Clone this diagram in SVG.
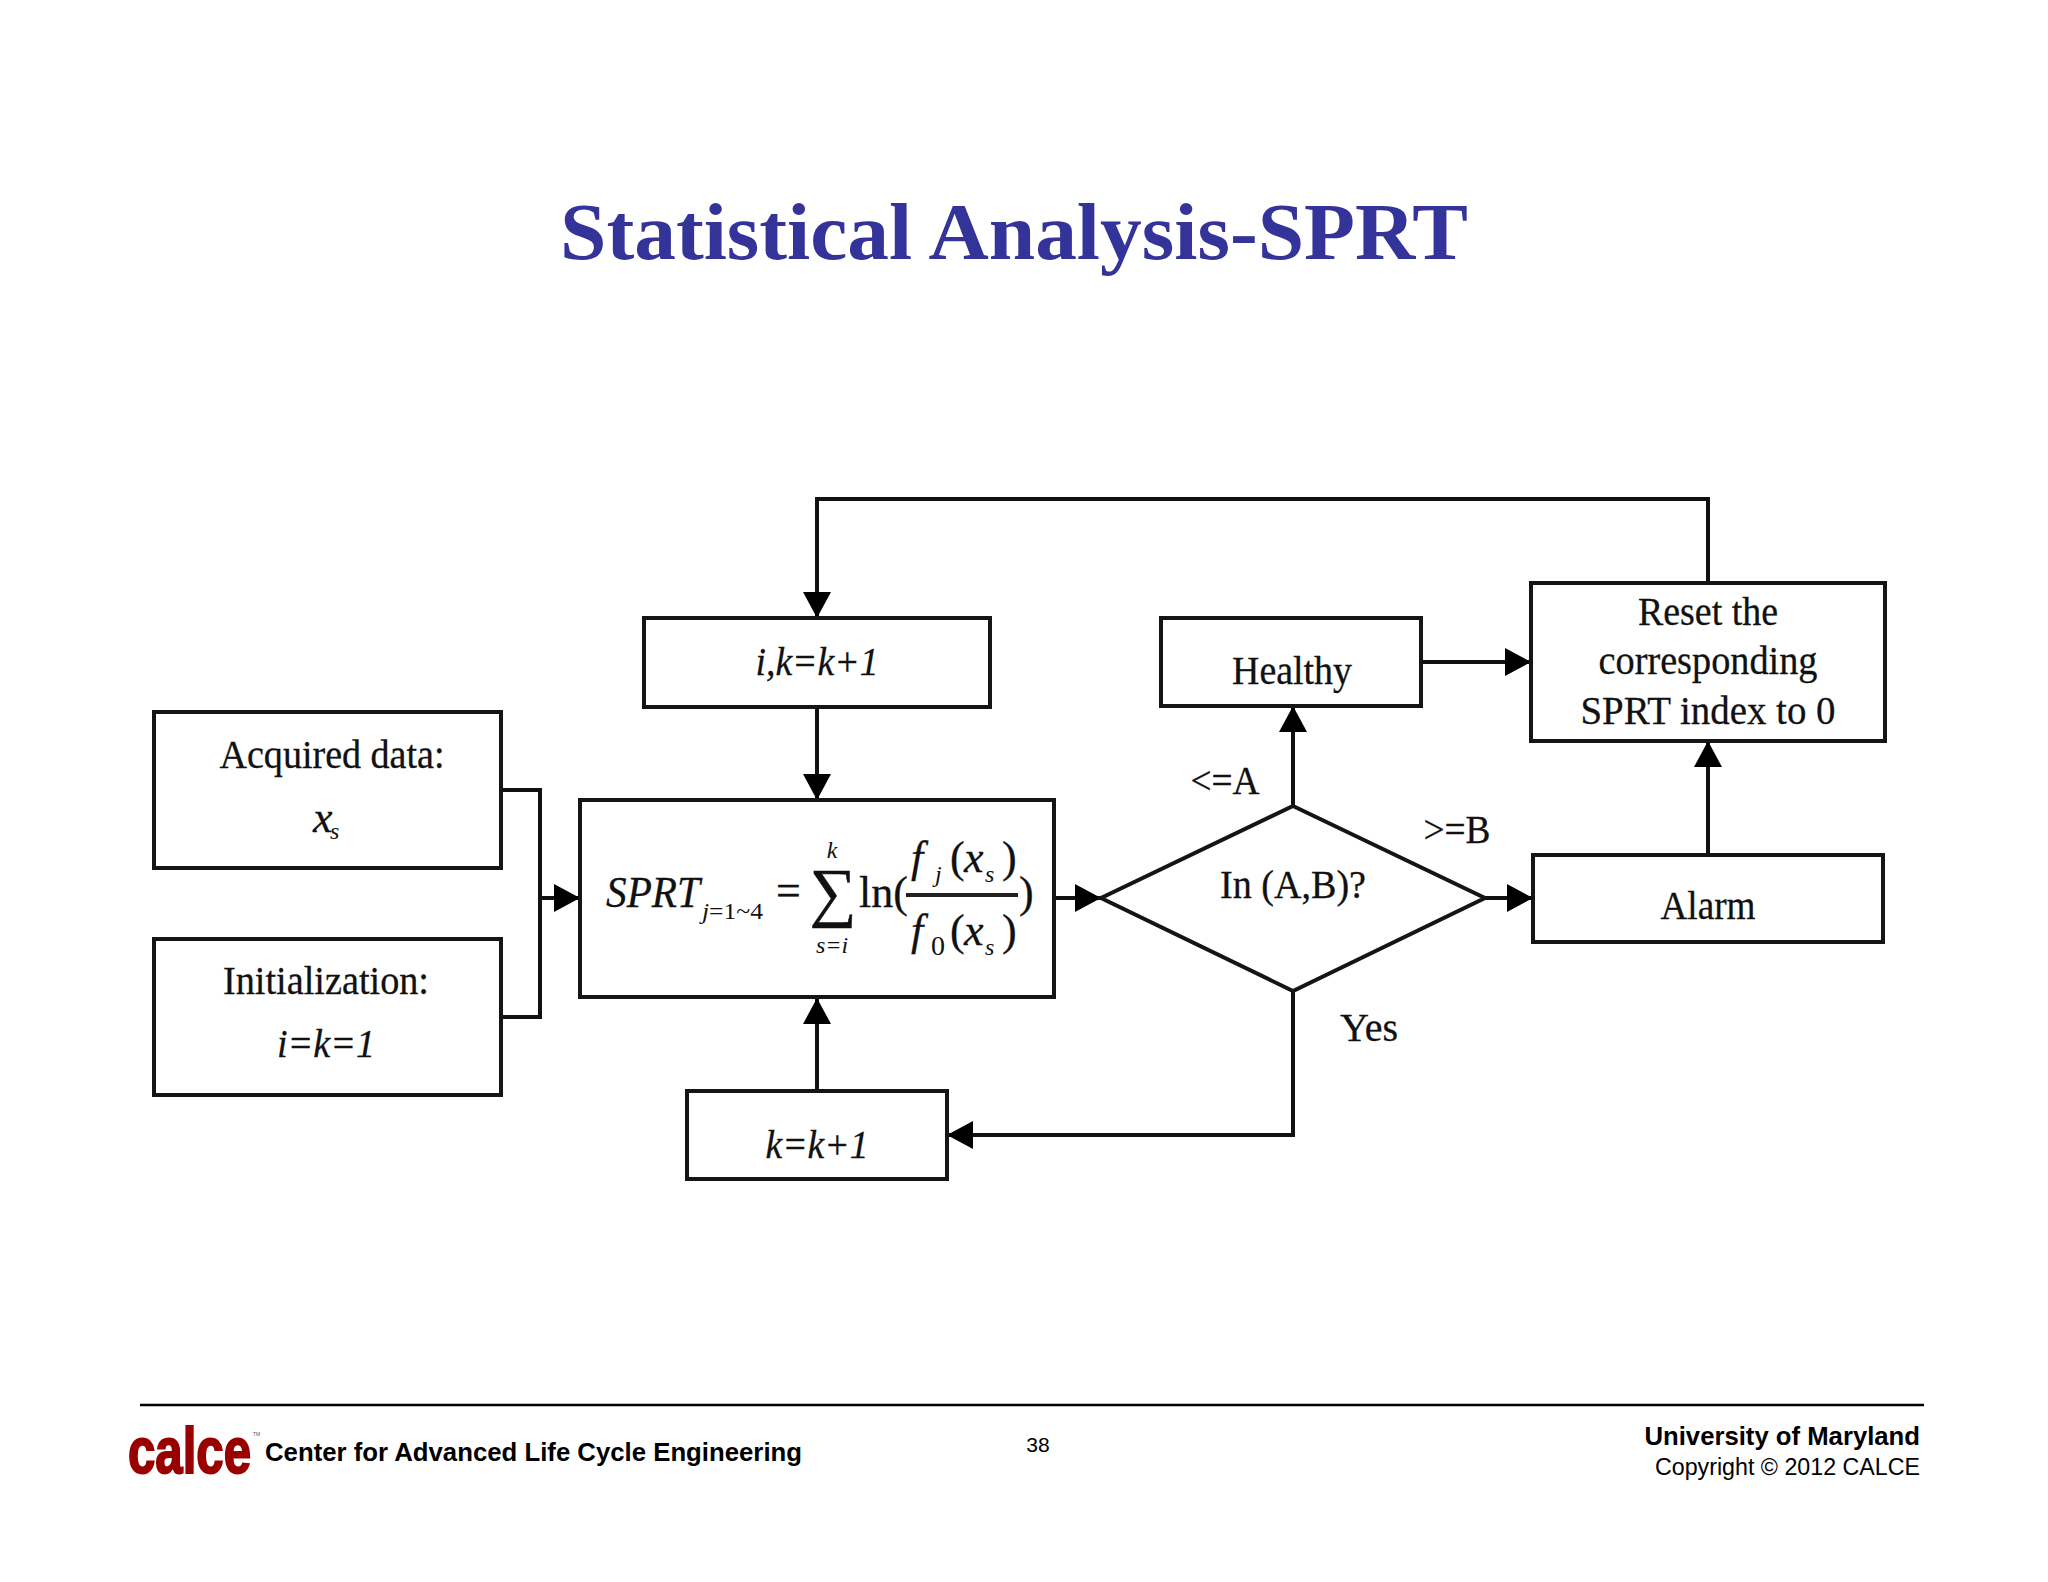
<svg xmlns="http://www.w3.org/2000/svg" width="2048" height="1582" viewBox="0 0 2048 1582">
<style>
.t{font-family:"Liberation Serif",serif;font-size:40px;fill:#111;stroke:#111;stroke-width:.3;text-anchor:middle}
.i{font-style:italic}
.m{font-family:"Liberation Serif",serif;font-size:44px;fill:#111;stroke:#111;stroke-width:.3}
.s{font-family:"Liberation Serif",serif;font-size:24px;fill:#111;font-style:italic}
.b{fill:#fff;stroke:#151515;stroke-width:4}
.c{fill:none;stroke:#111;stroke-width:4;stroke-linejoin:miter}
.f{font-family:"Liberation Sans",sans-serif;fill:#000}
</style>
<defs>
<marker id="a" markerUnits="userSpaceOnUse" markerWidth="27" markerHeight="28" refX="26" refY="14" orient="auto"><path d="M0 0L26 14L0 28Z" fill="#000"/></marker>
</defs>
<rect width="2048" height="1582" fill="#fff"/>
<text id="title" x="1014" y="259" text-anchor="middle" font-family="Liberation Serif,serif" font-weight="bold" font-size="80" fill="#333399" textLength="908" lengthAdjust="spacingAndGlyphs">Statistical Analysis-SPRT</text>
<g id="connectors">
<path class="c" d="M1708 583V499H817V618" marker-end="url(#a)"/>
<path class="c" d="M817 707V800" marker-end="url(#a)"/>
<path class="c" d="M817 1091V998" marker-end="url(#a)"/>
<path class="c" d="M1293 991V1135H947" marker-end="url(#a)"/>
<path class="c" d="M501 790H540V1017H501"/>
<path class="c" d="M540 898H580" marker-end="url(#a)"/>
<path class="c" d="M1054 898H1101" marker-end="url(#a)"/>
<path class="c" d="M1485 898H1533" marker-end="url(#a)"/>
<path class="c" d="M1708 855V741" marker-end="url(#a)"/>
<path class="c" d="M1293 806V706" marker-end="url(#a)"/>
<path class="c" d="M1421 662H1531" marker-end="url(#a)"/>
</g>
<g id="acquired"><rect class="b" x="154" y="712" width="347" height="156"/>
<text class="t" x="332" y="768" textLength="225" lengthAdjust="spacingAndGlyphs">Acquired data:</text>
<text class="m i" x="313" y="832" font-size="38">x</text><text class="s" x="330" y="839" font-size="22">s</text></g>
<g id="init"><rect class="b" x="154" y="939" width="347" height="156"/>
<text class="t" x="326" y="994" textLength="206" lengthAdjust="spacingAndGlyphs">Initialization:</text>
<text class="t i" x="326" y="1057" textLength="98" lengthAdjust="spacingAndGlyphs">i=k=1</text></g>
<g id="ik"><rect class="b" x="644" y="618" width="346" height="89"/>
<text class="t i" x="817" y="675" textLength="123" lengthAdjust="spacingAndGlyphs">i,k=k+1</text></g>
<g id="kk"><rect class="b" x="687" y="1091" width="260" height="88"/>
<text class="t i" x="817" y="1158" textLength="103" lengthAdjust="spacingAndGlyphs">k=k+1</text></g>
<g id="sprt"><rect class="b" x="580" y="800" width="474" height="197"/>
<text class="m i" x="606" y="907" textLength="94" lengthAdjust="spacingAndGlyphs">SPRT</text>
<text class="s" x="702" y="919" textLength="61" lengthAdjust="spacingAndGlyphs">j<tspan font-style="normal">=1~4</tspan></text>
<text class="m" x="776" y="905">=</text>
<text x="833" y="914" text-anchor="middle" font-family="Liberation Serif,serif" font-size="66" fill="#111" stroke="#111" stroke-width=".5">∑</text>
<text class="s" x="832" y="858" text-anchor="middle">k</text>
<text class="s" x="832" y="953" text-anchor="middle">s=i</text>
<text class="m" x="859" y="907">ln(</text>
<path d="M906 895H1018" stroke="#222" stroke-width="4"/>
<text class="m i" x="911" y="872">f</text><text class="s" x="935" y="882">j</text>
<text class="m" x="950" y="872">(</text><text class="m i" x="964" y="872">x</text><text class="s" x="985" y="882">s</text><text class="m" x="1002" y="872">)</text>
<text class="m i" x="911" y="945">f</text><text x="931" y="955" font-family="Liberation Serif,serif" font-size="28" fill="#111">0</text>
<text class="m" x="950" y="945">(</text><text class="m i" x="964" y="945">x</text><text class="s" x="985" y="955">s</text><text class="m" x="1002" y="945">)</text>
<text class="m" x="1019" y="907">)</text></g>
<g id="diamond"><path class="b" d="M1293 806L1485 898L1293 991L1101 898Z"/>
<text class="t" x="1293" y="898" textLength="146" lengthAdjust="spacingAndGlyphs">In (A,B)?</text></g>
<g id="healthy"><rect class="b" x="1161" y="618" width="260" height="88"/>
<text class="t" x="1292" y="684" textLength="120" lengthAdjust="spacingAndGlyphs">Healthy</text></g>
<g id="reset"><rect class="b" x="1531" y="583" width="354" height="158"/>
<text class="t" x="1708" y="625" textLength="140" lengthAdjust="spacingAndGlyphs">Reset the</text>
<text class="t" x="1708" y="674" textLength="219" lengthAdjust="spacingAndGlyphs">corresponding</text>
<text class="t" x="1708" y="724" textLength="255" lengthAdjust="spacingAndGlyphs">SPRT index to 0</text></g>
<g id="alarm"><rect class="b" x="1533" y="855" width="350" height="87"/>
<text class="t" x="1708" y="919" textLength="95" lengthAdjust="spacingAndGlyphs">Alarm</text></g>
<text class="t" x="1225" y="794" textLength="69" lengthAdjust="spacingAndGlyphs">&lt;=A</text>
<text class="t" x="1457" y="843" textLength="67" lengthAdjust="spacingAndGlyphs">&gt;=B</text>
<text class="t" x="1369" y="1041">Yes</text>
<g id="footer">
<path d="M140 1405H1924" stroke="#000" stroke-width="2.5"/>
<text x="128" y="1473" font-family="Liberation Sans,sans-serif" font-weight="bold" font-size="64" fill="#990000" stroke="#990000" stroke-width="2" textLength="123" lengthAdjust="spacingAndGlyphs">calce</text>
<text x="253" y="1436" font-family="Liberation Sans,sans-serif" font-size="5" fill="#555">TM</text>
<text class="f" x="265" y="1461" font-weight="bold" font-size="26" textLength="537" lengthAdjust="spacingAndGlyphs">Center for Advanced Life Cycle Engineering</text>
<text class="f" x="1038" y="1452" font-size="21" text-anchor="middle">38</text>
<text class="f" x="1920" y="1445" font-weight="bold" font-size="25.7" text-anchor="end">University of Maryland</text>
<text class="f" x="1920" y="1475" font-size="23.5" text-anchor="end" textLength="265" lengthAdjust="spacingAndGlyphs">Copyright © 2012 CALCE</text>
</g>
</svg>
